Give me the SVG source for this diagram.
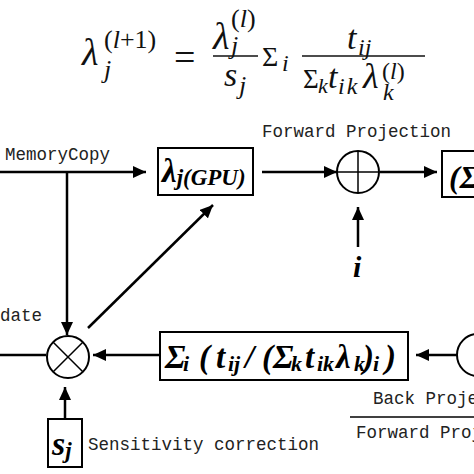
<svg xmlns="http://www.w3.org/2000/svg" width="474" height="474" viewBox="0 0 474 474">
<style>
.mono{font-family:"Liberation Mono","Courier New",monospace;font-size:17.5px;fill:#222}
.eq text{font-family:"Liberation Serif","Times New Roman",serif;fill:#111}
.it{font-style:italic}
.bi{font-family:"Liberation Serif","Times New Roman",serif;font-style:italic;font-weight:bold;fill:#000}
.box{fill:#fff;stroke:#000;stroke-width:2}
.ln{fill:none;stroke:#000;stroke-width:2.5}
.op{fill:#fff;stroke:#000;stroke-width:2}
.th{stroke:#000;stroke-width:1.5}
</style>
<defs>
<marker id="ah" markerUnits="userSpaceOnUse" markerWidth="13" markerHeight="12" refX="13" refY="6" orient="auto">
<path d="M0,0 L13,6 L0,12 z" fill="#000"/>
</marker>
</defs>
<rect width="474" height="474" fill="#fff"/>

<g id="equation" class="eq" style="font-family:'Liberation Serif',serif">
<text class="it" x="82" y="65" font-size="38">λ</text>
<text x="104" y="48" font-size="26">(<tspan class="it">l</tspan>+1)</text>
<text class="it" x="104" y="78" font-size="26">j</text>
<text x="174" y="70" font-size="38">=</text>
<line x1="213" y1="56" x2="258" y2="56" stroke="#111" stroke-width="1.6"/>
<text class="it" x="213" y="49" font-size="38">λ</text>
<text x="231" y="27" font-size="26">(<tspan class="it">l</tspan>)</text>
<text class="it" x="231" y="54" font-size="26">j</text>
<text class="it" x="224" y="86" font-size="34">s</text>
<text class="it" x="239" y="94" font-size="26">j</text>
<text x="262" y="66" font-size="28">Σ</text>
<text class="it" x="282" y="71" font-size="24">i</text>
<line x1="302" y1="56" x2="425" y2="56" stroke="#111" stroke-width="1.6"/>
<text class="it" x="347" y="49" font-size="34">t</text>
<text class="it" x="358" y="55" font-size="24">ij</text>
<text x="303" y="88" font-size="27">Σ</text>
<text class="it" x="318" y="93" font-size="22">k</text>
<text class="it" x="328" y="88" font-size="34">t</text>
<text class="it" x="338" y="94" font-size="24" letter-spacing="2">ik</text>
<text class="it" x="363" y="88" font-size="36">λ</text>
<text x="382" y="79" font-size="24">(<tspan class="it">l</tspan>)</text>
<text class="it" x="383" y="100" font-size="24">k</text>
</g>

<g id="connectors">
<line class="ln" x1="-5" y1="172" x2="146" y2="172" marker-end="url(#ah)"/>
<line class="ln" x1="67" y1="172" x2="67" y2="335" marker-end="url(#ah)"/>
<line class="ln" x1="88" y1="328" x2="213" y2="205" marker-end="url(#ah)"/>
<line class="ln" x1="262" y1="172" x2="337" y2="172" marker-end="url(#ah)"/>
<line class="ln" x1="380" y1="172" x2="437" y2="172" marker-end="url(#ah)"/>
<line class="ln" x1="358" y1="247" x2="358" y2="207" marker-end="url(#ah)"/>
<line class="ln" x1="457" y1="355" x2="416" y2="355" marker-end="url(#ah)"/>
<line class="ln" x1="160" y1="355" x2="93" y2="355" marker-end="url(#ah)"/>
<line class="ln" x1="46" y1="355" x2="-5" y2="355"/>
<line class="ln" x1="65" y1="419" x2="65" y2="387" marker-end="url(#ah)"/>
<line class="th" x1="350" y1="417" x2="480" y2="417"/>
</g>

<g id="labels">
<text class="mono" x="5" y="160">MemoryCopy</text>
<text class="mono" x="262" y="137">Forward Projection</text>
<text class="mono" x="-21" y="321">Update</text>
<text class="mono" x="373" y="404">Back Projection</text>
<text class="mono" x="356" y="438">Forward Projection</text>
<text class="mono" x="88" y="450">Sensitivity correction</text>
</g>

<g id="lambda-gpu">
<rect class="box" x="158" y="148" width="95" height="47"/>
<text class="bi" x="162" y="182" font-size="33">λ<tspan font-size="23" dy="3">j(GPU)</tspan></text>
</g>

<g id="sum-forward">
<rect class="box" x="442" y="151" width="60" height="46"/>
<text class="bi" x="449" y="188" font-size="32">(Σ</text>
</g>

<g id="plus">
<circle class="op" cx="358" cy="172" r="21"/>
<line class="th" x1="337" y1="172" x2="379" y2="172"/>
<line class="th" x1="358" y1="151" x2="358" y2="193"/>
</g>

<g id="index-i">
<text class="bi" x="353" y="277" font-size="30">i</text>
</g>

<g id="times">
<circle class="op" cx="68" cy="357" r="21"/>
<line class="th" x1="53.2" y1="342.2" x2="82.8" y2="371.8"/>
<line class="th" x1="82.8" y1="342.2" x2="53.2" y2="371.8"/>
</g>

<g id="sum-back">
<rect class="box" x="160" y="332" width="248" height="48"/>
<text class="bi" y="368" font-size="33"><tspan x="165">Σ</tspan><tspan x="183" font-size="22" dy="3">i</tspan><tspan x="199" dy="-3">(</tspan><tspan x="216">t</tspan><tspan x="228" font-size="22" dy="3">ij</tspan><tspan x="245" dy="-3">/</tspan><tspan x="262">(</tspan><tspan x="273">Σ</tspan><tspan x="291" font-size="22" dy="3">k</tspan><tspan x="305" dy="-3">t</tspan><tspan x="317" font-size="22" dy="3">ik</tspan><tspan x="336" dy="-3">λ</tspan><tspan x="354" font-size="22" dy="3">k</tspan><tspan x="363" dy="-3">)</tspan><tspan x="373" font-size="22" dy="3">i</tspan><tspan x="385" dy="-3">)</tspan></text>
</g>

<g id="back-circle">
<circle class="op" cx="478" cy="355" r="21"/>
</g>

<g id="sensitivity">
<rect class="box" x="48" y="419" width="34" height="48"/>
<text class="bi" x="52" y="455" font-size="34">s<tspan font-size="23" dy="3">j</tspan></text>
</g>
</svg>
